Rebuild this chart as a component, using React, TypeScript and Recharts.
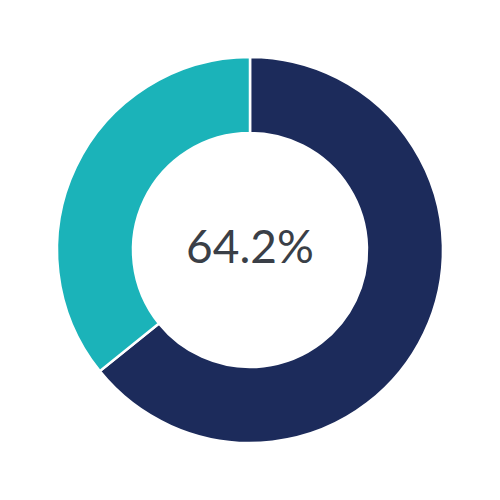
import React from "react";
import { PieChart, Pie, Cell } from "recharts";

const categories = ["Share", "Remainder"];
const values = [64.2, 35.8];
const colors = ["#1c2b5b", "#1bb3b9"];
const centerLabel = "64.2%";

const data = categories.map((name, i) => ({ name, value: values[i] }));

export default function App() {
  return (
    <div style={{ position: "absolute", left: 0, top: 0, width: 500, height: 500, background: "#fff" }}>
      <PieChart width={500} height={500} margin={{ top: 0, right: 0, bottom: 0, left: 0 }}>
        <Pie
          data={data}
          dataKey="value"
          nameKey="name"
          cx={250}
          cy={250}
          innerRadius={117}
          outerRadius={193}
          startAngle={90}
          endAngle={-270}
          stroke="#ffffff"
          strokeWidth={2.5}
          isAnimationActive={false}
        >
          {data.map((d, i) => (
            <Cell key={d.name} fill={colors[i]} />
          ))}
        </Pie>
        <text
          x={250}
          y={263}
          textAnchor="middle"
          fontFamily="Lato, sans-serif"
          fontSize={46}
          fill="#3a3f47"
        >
          {centerLabel}
        </text>
      </PieChart>
    </div>
  );
}
